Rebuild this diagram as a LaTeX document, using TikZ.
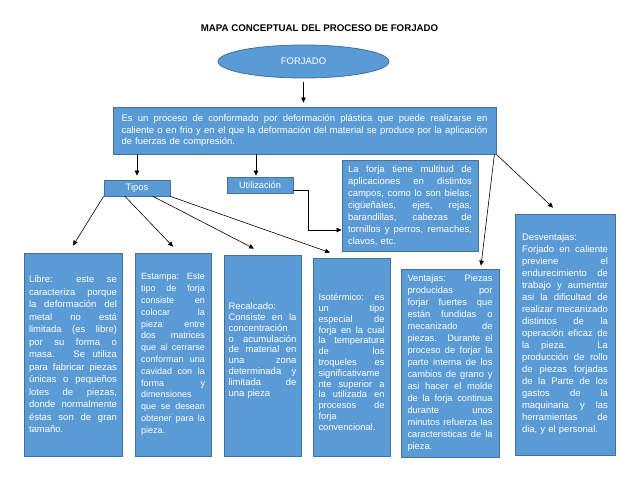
\documentclass[tikz,border=0pt]{standalone}
\usepackage{fontspec}
\setmainfont{Liberation Sans}
\usetikzlibrary{arrows.meta,shapes.geometric}
\definecolor{boxc}{HTML}{5B9BD5}
\definecolor{bordc}{HTML}{41719C}
\newcommand\JL[1]{\noindent\hbox to \hsize{\spaceskip=0pt\xspaceskip=0pt #1}}
\begin{document}
\begin{tikzpicture}[x=1pt,y=-1pt,
  bx/.style={rectangle, draw=bordc, fill=boxc, line width=0.8pt, text=white, inner sep=0pt, align=left},
  arr/.style={draw=black, line width=0.6pt, -{Triangle[length=5pt,width=4.5pt]}}]
\fill[white] (0,0) rectangle (638,493);
\useasboundingbox (0,0) rectangle (638,493);

\node[font=\fontsize{9.7}{11}\selectfont\bfseries] (title) at (319.5,28) {MAPA CONCEPTUAL DEL PROCESO DE FORJADO};

\node[ellipse, draw=bordc, fill=boxc, line width=0.8pt, minimum width=171pt, minimum height=33pt, inner sep=0pt, text=white, font=\fontsize{9.5}{11}\selectfont] (ell) at (303.5,61.5) {FORJADO};

\node[bx, minimum width=383pt, minimum height=47pt, text width=366pt, font=\fontsize{9.5}{11.7}\selectfont] (main) at (304.5,130.5)
{\JL{Es un proceso de conformado por deformación plástica que puede realizarse en}\\
\JL{caliente o en frio y en el que la deformación del material se produce por la aplicación}\\
de fuerzas de compresión.};

\node[bx, align=center, minimum width=66pt, minimum height=16pt, font=\fontsize{9.4}{11}\selectfont] (tipos) at (137,188) {Tipos};
\node[bx, align=center, minimum width=66pt, minimum height=16pt, font=\fontsize{9.2}{11}\selectfont] (uti) at (260,185) {Utilización};

\node[bx, minimum width=136pt, minimum height=91pt, text width=124pt, font=\fontsize{9.5}{12}\selectfont] (forja) at (410,205.5)
{\JL{La forja tiene multitud de}\\
\JL{aplicaciones en distintos}\\
\JL{campos, como lo son bielas,}\\
\JL{cigüeñales, ejes, rejas,}\\
\JL{barandillas, cabezas de}\\
\JL{tornillos y perros, remaches,}\\
clavos, etc.};

\node[bx, minimum width=98pt, minimum height=203pt, text width=88pt, font=\fontsize{9.5}{12.5}\selectfont] (libre) at (73,354.5)
{\JL{Libre: este se}\\
\JL{caracteriza porque}\\
\JL{la deformación del}\\
\JL{metal no está}\\
\JL{limitada (es libre)}\\
\JL{por su forma o}\\
\JL{masa. Se utiliza}\\
\JL{para fabricar piezas}\\
\JL{únicas o pequeños}\\
\JL{lotes de piezas,}\\
\JL{donde normalmente}\\
\JL{éstas son de gran}\\
tamaño.};

\node[bx, minimum width=76pt, minimum height=203pt, text width=64pt, font=\fontsize{9}{11.8}\selectfont] (esta) at (173,354.5)
{\JL{Estampa: Este}\\
\JL{tipo de forja}\\
\JL{consiste en}\\
\JL{colocar la}\\
\JL{pieza entre}\\
\JL{dos matrices}\\
\JL{que al cerrarse}\\
\JL{conforman una}\\
\JL{cavidad con la}\\
\JL{forma y}\\
dimensiones\\
\JL{que se desean}\\
\JL{obtener para la}\\
pieza.};

\node[bx, minimum width=77pt, minimum height=201pt, text width=68pt, font=\fontsize{9.5}{10.8}\selectfont] (reca) at (262.5,355.5)
{Recalcado:\\
\JL{Consiste en la}\\
concentración\\
\JL{o acumulación}\\
\JL{de material en}\\
\JL{una zona}\\
\JL{determinada y}\\
\JL{limitada de}\\
una pieza\rule[-12pt]{0pt}{12pt}};

\node[bx, minimum width=77pt, minimum height=198pt, text width=66pt, font=\fontsize{9.3}{10.8}\selectfont] (iso) at (351.5,357)
{\JL{\rule{0pt}{17pt}Isotérmico: es}\\
\JL{un tipo}\\
\JL{especial de}\\
\JL{forja en la cual}\\
\JL{la temperatura}\\
\JL{de los}\\
\JL{troqueles es}\\
significativame\\
\JL{nte superior a}\\
\JL{la utilizada en}\\
\JL{procesos de}\\
forja\\
convencional.};

\node[bx, minimum width=98pt, minimum height=188pt, text width=85pt, font=\fontsize{9.3}{12}\selectfont] (vent) at (450,363)
{\JL{Ventajas: Piezas}\\
\JL{producidas por}\\
\JL{forjar fuertes que}\\
\JL{están fundidas o}\\
\JL{mecanizado de}\\
\JL{piezas. Durante el}\\
\JL{proceso de forjar la}\\
\JL{parte interna de los}\\
\JL{cambios de grano y}\\
\JL{asi hacer el molde}\\
\JL{de la forja continua}\\
\JL{durante unos}\\
\JL{minutos refuerza las}\\
\JL{caracteristicas de la}\\
pieza.};

\node[bx, minimum width=100pt, minimum height=241pt, text width=86pt, font=\fontsize{9.5}{12}\selectfont] (desv) at (565,334.5)
{Desventajas:\\
\JL{Forjado en caliente}\\
\JL{previene el}\\
\JL{endurecimiento de}\\
\JL{trabajo y aumentar}\\
\JL{asi la dificultad de}\\
\JL{realizar mecanizado}\\
\JL{distintos de la}\\
\JL{operación eficaz de}\\
\JL{la pieza. La}\\
\JL{producción de rollo}\\
\JL{de piezas forjadas}\\
\JL{de la Parte de los}\\
\JL{gastos de la}\\
\JL{maquinaria y las}\\
\JL{herramientas de}\\
dia, y el personal.};

% connectors
\draw[arr, shorten <=4pt, shorten >=4pt] (ell.south) -- (ell.south |- main.north);
\draw[arr, shorten >=4pt] (main.south -| tipos.north) -- (tipos.north);
\draw[arr, shorten >=1pt] (main.south -| 256,0) -- (uti.north -| 256,0);
\draw[arr] (uti.east |- 0,190.7) -- (308,190.7) |- (forja.west |- 0,230);
\draw[arr] (tipos.south west) -- ([yshift=7pt]libre.north);
\draw[arr] ([xshift=-12pt]tipos.south) -- ([yshift=6pt]esta.north);
\draw[arr] ([xshift=16pt]tipos.south) -- ([xshift=-8.5pt,yshift=6pt]reca.north);
\draw[arr] (tipos.south east) -- ([xshift=-21.5pt,yshift=5pt]iso.north);
\draw[arr] ([xshift=-2pt]main.south east) -- ([xshift=31pt,yshift=3pt]vent.north);
\draw[arr] (main.south east) -- ([xshift=-12pt,yshift=6pt]desv.north);
\end{tikzpicture}
\end{document}
